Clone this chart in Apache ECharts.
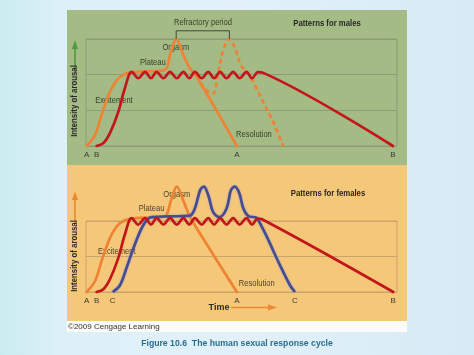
<!DOCTYPE html>
<html>
<head>
<meta charset="utf-8">
<script src="https://cdn.jsdelivr.net/npm/echarts@6/dist/echarts.min.js"></script>
<style>
html,body{margin:0;padding:0;width:474px;height:355px;overflow:hidden;
  background:linear-gradient(90deg,#c9ecef 0%,#dcf0f8 12%,#e2f1f9 50%,#d6ebf6 100%);}
#chart{width:474px;height:355px;}
</style>
</head>
<body>
<div id="chart"></div>
<script>
// ---------- DATA (time units 0..100, arousal intensity units) ----------
// Patterns for males
const maleA_t = [0.2, 2.9, 5.0, 7.7, 9.9, 12.5, 16, 22, 25.4, 27.3, 29.0, 31.3, 33.4, 35.6, 48.5];
const maleA_v = [0, 0.31, 0.87, 1.52, 1.85, 2.02, 2.08, 2.1, 2.13, 2.64, 3.0, 2.55, 2.18, 1.94, 0];
const maleRepeat_t = [36.7, 38.6, 40.9, 42.5, 44.4, 46.1, 47.9, 49.8, 51.8, 53.8, 57.0, 60.2, 63.4];
const maleRepeat_v = [1.77, 1.57, 1.48, 2.07, 2.75, 3.0, 2.75, 2.27, 2.07, 1.79, 1.23, 0.67, 0];
const maleB_t = [3.4, 5.6, 7.7, 10.4, 12.5, 14.7, 16.8, 19.0, 20.9, 22.7, 24.9, 27.0, 29.2, 31.3, 33.2, 35.0, 37.2, 39.3, 41.2, 43.1, 45.2, 47.3, 49.4, 51.6, 53.4, 55.3, 57.0, 98.7];
const maleB_v = [0, 0.08, 0.36, 0.96, 1.62, 2.08, 1.9, 2.08, 1.9, 2.08, 1.9, 2.08, 1.9, 2.08, 1.9, 2.08, 1.9, 2.08, 1.9, 2.08, 1.9, 2.08, 1.9, 2.08, 1.9, 2.07, 2.05, 0];
const refractory_t = [29.0, 29.0, 46.1, 46.1];
const refractory_v = [3.0, 3.23, 3.23, 3.0];
const maleTickT = [0.2, 3.4, 48.5, 98.7];
const maleTickL = ['A', 'B', 'A', 'B'];

// Patterns for females
const femA_t = [0.2, 2.9, 5.0, 7.7, 9.9, 12.5, 16, 22, 25.4, 27.4, 29.2, 31.4, 33.0, 34.5, 48.5];
const femA_v = [0, 0.31, 0.87, 1.52, 1.85, 2.02, 2.08, 2.1, 2.13, 2.6, 2.97, 2.55, 2.2, 1.95, 0];
const femB_t = [3.4, 5.6, 7.7, 10.4, 12.5, 14.7, 16.8, 19.0, 20.9, 22.7, 24.9, 27.0, 29.2, 31.3, 33.2, 35.0, 37.2, 39.3, 41.2, 43.1, 45.2, 47.3, 49.4, 51.6, 53.4, 55.2, 56.6, 98.8];
const femB_v = [0, 0.08, 0.36, 0.96, 1.62, 2.08, 1.9, 2.08, 1.9, 2.08, 1.9, 2.08, 1.9, 2.08, 1.9, 2.08, 1.9, 2.08, 1.9, 2.08, 1.9, 2.08, 1.9, 2.08, 1.9, 2.07, 2.05, 0];
const femC_t = [8.6, 10.9, 13.0, 15.2, 18.4, 21.1, 27, 33.4, 35.0, 36.7, 37.9, 39.3, 40.9, 42.9, 45.2, 46.6, 47.9, 49.3, 50.6, 52.2, 54.9, 55.8, 57.9, 62.4, 65.6, 67.2];
const femC_v = [0, 0.19, 0.67, 1.22, 1.88, 2.11, 2.13, 2.15, 2.35, 2.87, 2.97, 2.73, 2.25, 2.11, 2.35, 2.87, 2.97, 2.78, 2.35, 2.14, 2.09, 1.96, 1.6, 0.75, 0.19, 0];
const femTickT = [0.2, 3.4, 8.6, 48.5, 67.2, 98.8];
const femTickL = ['A', 'B', 'C', 'A', 'C', 'B'];

// Annotation texts (positions in data units)
const maleNotes = [
  {name: 'Orgasm', t: 28.9, v: 2.75},
  {name: 'Plateau', t: 21.5, v: 2.35},
  {name: 'Excitement', t: 9.0, v: 1.26},
  {name: 'Resolution', t: 54.0, v: 0.31},
  {name: 'Refractory period', t: 37.6, v: 3.45}
];
const femNotes = [
  {name: 'Orgasm', t: 29.2, v: 2.74},
  {name: 'Plateau', t: 21.1, v: 2.35},
  {name: 'Excitement', t: 9.9, v: 1.15},
  {name: 'Resolution', t: 54.9, v: 0.25}
];

// ---------- CHART ----------
const zip = (t, v) => t.map((x, i) => [x, v[i]]);
const FONT = "'Liberation Sans', Arial, sans-serif";
const ORANGE = '#ee8333', RED = '#c3161b', BLUE = '#474c8e';

const chart = echarts.init(document.getElementById('chart'), null, {renderer: 'canvas'});

function xAxisFor(gridIndex, ticks, labels) {
  return {
    type: 'value', gridIndex, min: 0, max: 100,
    axisLine: {show: false}, axisTick: {show: false}, splitLine: {show: false},
    axisLabel: {
      show: true, customValues: ticks, margin: 5, fontSize: 8, color: '#3a3a3a', fontFamily: FONT,
      formatter: (val) => { const i = ticks.indexOf(val); return i >= 0 ? labels[i] : ''; }
    }
  };
}
function yAxisFor(gridIndex, max, lineColor) {
  return {
    type: 'value', gridIndex, min: 0, max, interval: 1,
    axisLine: {show: false}, axisTick: {show: false}, axisLabel: {show: false},
    splitLine: {show: true, lineStyle: {color: lineColor, width: 1}}
  };
}
function curve(xi, data, color, extra) {
  return Object.assign({
    type: 'line', xAxisIndex: xi, yAxisIndex: xi, data, smooth: 0.35,
    showSymbol: false, symbol: 'none', clip: false, silent: true,
    lineStyle: {color, width: 2.7, cap: 'round', join: 'round'}
  }, extra || {});
}
function txt(x, y, text, size, color, opts) {
  return Object.assign({type: 'text', x, y, silent: true,
    style: {text, fontSize: size, fontFamily: FONT, fill: color, align: 'center', verticalAlign: 'middle'}}, opts || {});
}

const baseGraphic = [
  {type: 'rect', z: -10, shape: {x: 67, y: 10, width: 340, height: 155}, style: {fill: '#a4bb86'}},
  {type: 'rect', z: -10, shape: {x: 67, y: 165, width: 340, height: 156}, style: {fill: '#f5c778'}},
  {type: 'rect', z: -10, shape: {x: 67, y: 321, width: 340, height: 11}, style: {fill: '#fbfbfb'}},
  // axis titles with arrows
  {type: 'line', shape: {x1: 75, y1: 72, x2: 75, y2: 47}, style: {stroke: '#4e9a3e', lineWidth: 1.6}},
  {type: 'polygon', shape: {points: [[75, 40], [72, 49], [78, 49]]}, style: {fill: '#4e9a3e'}},
  {type: 'text', x: 75, y: 101, rotation: Math.PI / 2, scaleX: 0.92,
   style: {text: 'Intensity of arousal', fontSize: 8.5, fontWeight: 'bold', fontFamily: FONT, fill: '#2b2b2b', align: 'center', verticalAlign: 'middle'}},
  {type: 'line', shape: {x1: 75, y1: 223, x2: 75, y2: 198}, style: {stroke: '#ec8733', lineWidth: 1.6}},
  {type: 'polygon', shape: {points: [[75, 191.5], [72, 200], [78, 200]]}, style: {fill: '#ec8733'}},
  {type: 'text', x: 75, y: 256, rotation: Math.PI / 2, scaleX: 0.92,
   style: {text: 'Intensity of arousal', fontSize: 8.5, fontWeight: 'bold', fontFamily: FONT, fill: '#2b2b2b', align: 'center', verticalAlign: 'middle'}},
  // panel titles
  txt(327, 24, 'Patterns for males', 9, '#262626', {scaleX: 0.86, style: {text: 'Patterns for males', fontSize: 9, fontWeight: 'bold', fontFamily: FONT, fill: '#262626', align: 'center', verticalAlign: 'middle'}}),
  txt(328, 194, 'Patterns for females', 9, '#262626', {scaleX: 0.86, style: {text: 'Patterns for females', fontSize: 9, fontWeight: 'bold', fontFamily: FONT, fill: '#262626', align: 'center', verticalAlign: 'middle'}}),
  // time arrow
  txt(219, 307.5, 'Time', 9, '#2b2b2b', {style: {text: 'Time', fontSize: 9, fontWeight: 'bold', fontFamily: FONT, fill: '#2b2b2b', align: 'center', verticalAlign: 'middle'}}),
  {type: 'line', shape: {x1: 231, y1: 307.5, x2: 270, y2: 307.5}, style: {stroke: '#ec8733', lineWidth: 1.6}},
  {type: 'polygon', shape: {points: [[277, 307.5], [268, 304.5], [268, 310.5]]}, style: {fill: '#ec8733'}},
  // footer
  {type: 'text', x: 68, y: 326.5, style: {text: '\u00a92009 Cengage Learning', fontSize: 8, fontFamily: FONT, fill: '#333', align: 'left', verticalAlign: 'middle'}},
  {type: 'text', x: 237, y: 343.5, style: {text: 'Figure 10.6  The human sexual response cycle', fontSize: 8.7, fontWeight: 'bold', fontFamily: FONT, fill: '#2b6d8f', align: 'center', verticalAlign: 'middle'}}
];

chart.setOption({
  animation: false,
  backgroundColor: 'transparent',
  grid: [
    {left: 86, top: 39, width: 311, height: 107, show: true, borderColor: '#8c9c7a', borderWidth: 1, backgroundColor: 'transparent'},
    {left: 86, top: 221, width: 311, height: 71, show: true, borderColor: '#c9a46c', borderWidth: 1, backgroundColor: 'transparent'}
  ],
  xAxis: [xAxisFor(0, maleTickT, maleTickL), xAxisFor(1, femTickT, femTickL)],
  yAxis: [yAxisFor(0, 3, '#8c9c7a'), yAxisFor(1, 2, '#c9a46c')],
  series: [
    // males
    curve(0, zip(maleA_t, maleA_v), ORANGE),
    curve(0, zip(maleRepeat_t, maleRepeat_v), ORANGE, {lineStyle: {color: ORANGE, width: 2.7, type: [5, 3]}}),
    curve(0, zip(maleB_t, maleB_v), RED),
    {type: 'line', xAxisIndex: 0, yAxisIndex: 0, data: zip(refractory_t, refractory_v), smooth: false,
     symbol: 'none', clip: false, silent: true, lineStyle: {color: '#3c3c3c', width: 0.9}},
    // females
    curve(1, zip(femA_t, femA_v), ORANGE),
    curve(1, zip(femC_t, femC_v), BLUE, {lineStyle: {color: BLUE, width: 2.7, shadowColor: 'rgba(150,160,225,0.9)', shadowBlur: 2}}),
    curve(1, zip(femB_t, femB_v), RED)
  ]
});

// annotation texts anchored to data coordinates through the axes
const noteGraphic = [];
[[0, maleNotes, '#34402a'], [1, femNotes, '#4f432f']].forEach(([gi, list, color]) => {
  list.forEach(n => {
    const p = chart.convertToPixel({gridIndex: gi}, [n.t, n.v]);
    noteGraphic.push({type: 'text', x: p[0], y: p[1], scaleX: 0.86, silent: true,
      style: {text: n.name, fontSize: 8.8, fontFamily: FONT, fill: color, align: 'center', verticalAlign: 'middle'}});
  });
});
chart.setOption({graphic: baseGraphic.concat(noteGraphic)});
</script>
</body>
</html>
